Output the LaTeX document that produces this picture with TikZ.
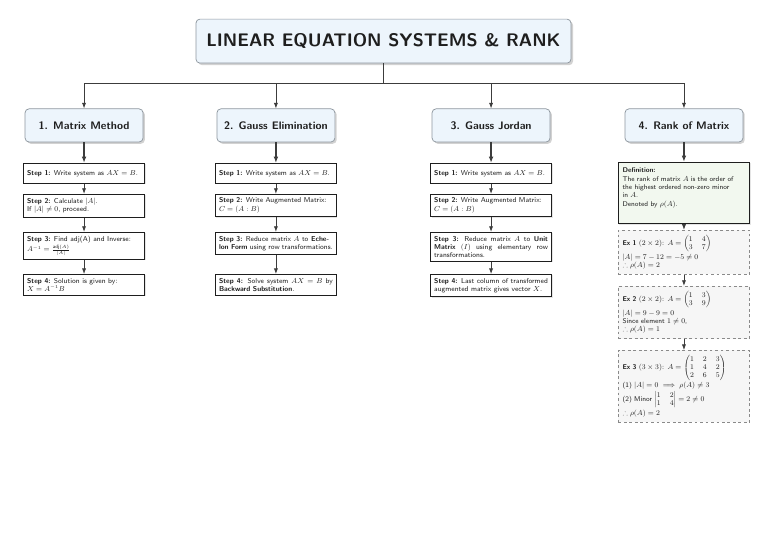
\documentclass[tikz,border=0pt]{standalone}
\usepackage{amsmath,amssymb}
\usepackage{xcolor}
\usetikzlibrary{arrows.meta,calc,positioning,shadows}
\definecolor{ink}{HTML}{1E1E1E}
\definecolor{wire}{HTML}{3C3C3C}
\definecolor{frame}{HTML}{8E979F}
\definecolor{headfill}{HTML}{EDF5FC}
\definecolor{deffill}{HTML}{F2F8EF}
\definecolor{exfill}{HTML}{F6F6F6}
\definecolor{exline}{HTML}{8A8A8A}
\tikzset{
  bus arrow/.style={draw=wire,line width=.8pt,-{Latex[length=2.2mm,width=1.6mm]}},
  flow arrow/.style={draw=wire,line width=.9pt,-{Latex[length=2.2mm,width=1.6mm]}},
  main arrow/.style={draw=wire,line width=1.4pt,-{Latex[length=2.4mm,width=1.8mm]}},
  title box/.style={draw=frame,line width=.8pt,rounded corners=1.5mm,fill=headfill,
    drop shadow={opacity=.35,shadow xshift=.8mm,shadow yshift=-.8mm},
    minimum width=14.5cm,minimum height=1.7cm,
    font=\sffamily\bfseries\fontsize{20}{24}\selectfont,text=ink},
  method box/.style={draw=frame,line width=.8pt,rounded corners=1.5mm,fill=headfill,
    drop shadow={opacity=.35,shadow xshift=.7mm,shadow yshift=-.7mm},
    minimum width=4.56cm,minimum height=1.28cm,
    font=\sffamily\bfseries\fontsize{12}{14}\selectfont,text=ink},
  step box/.style={draw=ink,line width=.8pt,fill=white,anchor=north,
    drop shadow={opacity=.2,shadow xshift=.4mm,shadow yshift=-.4mm},
    text width=4.4cm,inner xsep=1.4mm,inner ysep=1.4mm,minimum height=.77cm,
    align=justify,font=\sffamily\fontsize{7.8}{9.2}\selectfont,text=ink},
  def box/.style={draw=ink,line width=.8pt,fill=deffill,anchor=north,
    drop shadow={opacity=.2,shadow xshift=.4mm,shadow yshift=-.4mm},
    text width=4.75cm,inner xsep=1.6mm,inner ysep=2.2mm,
    align=left,font=\sffamily\fontsize{7.6}{9.2}\selectfont,text=ink},
  ex box/.style={draw=exline,dashed,line width=.6pt,fill=exfill,anchor=north,
    text width=4.75cm,inner xsep=1.6mm,inner ysep=2mm,
    align=left,font=\sffamily\fontsize{7.6}{9}\selectfont,text=ink}
}

\begin{document}
\begin{tikzpicture}[x=1cm,y=1cm]
  \path[use as bounding box] (0,0) rectangle (29.7,21);
  \fill[white] (0,0) rectangle (29.7,21);

  \node[title box] (title) at (14.83,19.41) {LINEAR EQUATION SYSTEMS \& RANK};

  % Method headers and the bus from the title.
  \node[method box] (mat) at (3.25,16.15) {1. Matrix Method};
  \node[method box] (gel) at (10.67,16.15) {2. Gauss Elimination};
  \node[method box] (gjo) at (18.99,16.15) {3. Gauss Jordan};
  \node[method box] (rnk) at (26.45,16.15) {4. Rank of Matrix};
  \foreach \h in {mat,gel,gjo,rnk}
    \draw[bus arrow] (title.south) -- ++(0,-0.77) -| (\h.north);

  % Matrix method.
  \node[step box] (mat1) at (3.25,14.70) {\textbf{Step 1:} Write system as $AX=B$.};
  \node[step box] (mat2) at (3.25,13.50) {\textbf{Step 2:} Calculate $|A|$.\\
    If $|A|\neq0$, proceed.};
  \node[step box] (mat3) at (3.25,12.03) {\textbf{Step 3:} Find adj(A) and Inverse:\\[1pt]
    $A^{-1}=\frac{\text{adj}(A)}{|A|}$};
  \node[step box] (mat4) at (3.25,10.40) {\textbf{Step 4:} Solution is given by:\\
    $X=A^{-1}B$};

  % Gauss elimination.
  \node[step box] (gel1) at (10.67,14.70) {\textbf{Step 1:} Write system as $AX=B$.};
  \node[step box] (gel2) at (10.67,13.50) {\textbf{Step 2:} Write Augmented Matrix:\\
    $C=(A:B)$};
  \node[step box] (gel3) at (10.67,12.03) {\textbf{Step 3:} Reduce matrix $A$ to
    \textbf{Eche-}\\\textbf{lon Form} using row transformations.};
  \node[step box] (gel4) at (10.67,10.40) {\textbf{Step 4:} Solve system $AX=B$ by
    \textbf{Backward Substitution}.};

  % Gauss Jordan.
  \node[step box] (gjo1) at (18.99,14.70) {\textbf{Step 1:} Write system as $AX=B$.};
  \node[step box] (gjo2) at (18.99,13.50) {\textbf{Step 2:} Write Augmented Matrix:\\
    $C=(A:B)$};
  \node[step box] (gjo3) at (18.99,12.03) {\textbf{Step 3:} Reduce matrix $A$ to
    \textbf{Unit Matrix} $(I)$ using elementary row transformations.};
  \node[step box] (gjo4) at (18.99,10.40) {\textbf{Step 4:} Last column of transformed
    augmented matrix gives vector $X$.};

  \foreach \c in {mat,gel,gjo}{
    \draw[main arrow] (\c.south) -- (\c1.north);
    \draw[flow arrow] (\c1.south) -- (\c2.north);
    \draw[flow arrow] (\c2.south) -- (\c3.north);
    \draw[flow arrow] (\c3.south) -- (\c4.north);
  }

  % Rank of a matrix: definition and three examples.
  \node[def box] (rdef) at (26.45,14.74) {\textbf{Definition:}\\
    The rank of matrix $A$ is the order of\\ the highest ordered non-zero minor\\ in $A$.\\
    Denoted by $\rho(A)$.\rule[-4.5mm]{0pt}{0pt}};
  \node[ex box] (rex1) at (26.45,12.11) {\textbf{Ex 1} $(2\times2)$:
    $A=\begin{pmatrix}1&4\\3&7\end{pmatrix}$\\[1pt]
    $|A|=7-12=-5\neq0$\\
    $\therefore\rho(A)=2$};
  \node[ex box] (rex2) at (26.45,9.94) {\textbf{Ex 2} $(2\times2)$:
    $A=\begin{pmatrix}1&3\\3&9\end{pmatrix}$\\[1pt]
    $|A|=9-9=0$\\
    Since element $1\neq0$,\\
    $\therefore\rho(A)=1$};
  \node[ex box] (rex3) at (26.45,7.46) {\textbf{Ex 3} $(3\times3)$:
    $A=\begin{pmatrix}1&2&3\\1&4&2\\2&6&5\end{pmatrix}$\\[1pt]
    (1) $|A|=0\implies\rho(A)\neq3$\\[1pt]
    (2) Minor $\begin{vmatrix}1&2\\1&4\end{vmatrix}=2\neq0$\\[1pt]
    $\therefore\rho(A)=2$};

  \draw[main arrow] (rnk.south) -- (rdef.north);
  \draw[flow arrow] (rdef.south) -- (rex1.north);
  \draw[flow arrow] (rex1.south) -- (rex2.north);
  \draw[flow arrow] (rex2.south) -- (rex3.north);
\end{tikzpicture}
\end{document}
